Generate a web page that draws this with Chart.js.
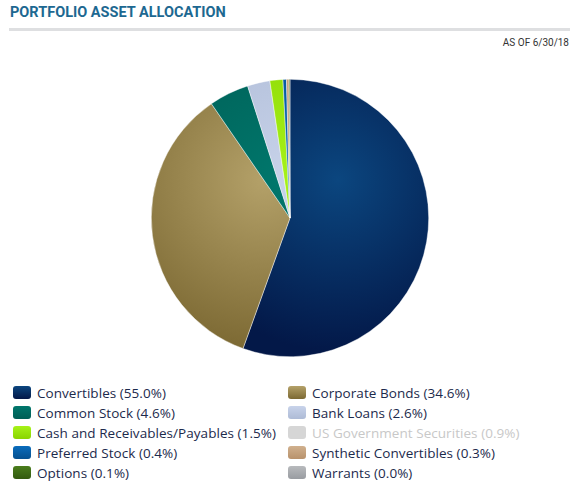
<!DOCTYPE html>
<html>
<head>
<meta charset="utf-8">
<script src="https://cdn.jsdelivr.net/npm/chart.js@4"></script>
<style>
    body { margin: 0; background: #fff; width: 578px; height: 488px; position: relative; overflow: hidden; font-family: "Open Sans", sans-serif; }
    #title { position: absolute; left: 10px; top: 4px; font-family: Roboto, sans-serif; font-weight: bold; font-size: 14.5px; color: #1d6891; letter-spacing: 0; }
    #rule { position: absolute; left: 9px; top: 28px; width: 561px; height: 3px; background: #dedfe1; }
    #asof { position: absolute; right: 9px; top: 37px; font-family: Roboto, sans-serif; font-size: 10px; color: #333; }
    #pie-wrap { position: absolute; left: 151px; top: 79px; width: 278px; height: 278px; }
    #legend { position: absolute; left: 13px; top: 383px; width: 560px; }
    .item { position: absolute; height: 20px; font-size: 13.5px; letter-spacing: 0.05px; color: #1c2a4c; white-space: nowrap; line-height: 20px; }
    .item .sw { position: absolute; left: 0; top: 3px; width: 18px; height: 13px; border-radius: 3px; }
    .item .tx { position: absolute; left: 24px; top: 0; }
    .item.off { color: #c8c8c8; }
</style>
</head>
<body>
<div id="title">PORTFOLIO ASSET ALLOCATION</div>
<div id="rule"></div>
<div id="asof">AS OF 6/30/18</div>
<div id="pie-wrap"><canvas id="allocation"></canvas></div>
<div id="legend"></div>

<script>
const labels = ['Convertibles', 'Corporate Bonds', 'Common Stock', 'Bank Loans',
    'Cash and Receivables/Payables', 'US Government Securities', 'Preferred Stock',
    'Synthetic Convertibles', 'Options', 'Warrants'];
const values = [55.0, 34.6, 4.6, 2.6, 1.5, 0.9, 0.4, 0.3, 0.1, 0.0];
const hiddenSlices = ['US Government Securities'];
// light centre / dark edge for each slice
const lightColors = ['#0b467f', '#b4a169', '#00776c', '#c8d3ea', '#a6f219', '#d4d4d4', '#0a6cbc', '#d0b08e', '#4a7d1c', '#b8babd'];
const darkColors = ['#031848', '#7c6933', '#005e55', '#aebbd6', '#8ad400', '#bdbdbd', '#05508f', '#b8926c', '#335a10', '#999ca1'];

function sliceFill(context) {
    const chart = context.chart;
    const arc = context.element;
    const i = context.dataIndex;
    if (!chart.chartArea || !arc || !arc.outerRadius) {
        return darkColors[i];
    }
    const cx = arc.x, cy = arc.y, r = arc.outerRadius;
    const mid = (arc.startAngle + arc.endAngle) / 2;
    const gx = cx + Math.cos(mid) * r * 0.25;
    const gy = cy - r * 0.33;
    const g = chart.ctx.createRadialGradient(gx, gy, 0, gx, gy, r * 1.15);
    g.addColorStop(0, lightColors[i]);
    g.addColorStop(1, darkColors[i]);
    return g;
}

const ctx = document.getElementById('allocation');
const chart = new Chart(ctx, {
    type: 'pie',
    data: {
        labels: labels,
        datasets: [{
            data: values,
            backgroundColor: sliceFill,
            borderColor: 'rgba(255,255,255,0.7)',
            borderWidth: 0.6
        }]
    },
    options: {
        responsive: false,
        animation: false,
        layout: {padding: 0},
        plugins: {
            legend: {display: false},
            tooltip: {enabled: false}
        }
    }
});
ctx.width = 278; ctx.height = 278;
chart.resize(278, 278);

// hidden series, like the greyed legend entry
labels.forEach(function (l, i) {
    if (hiddenSlices.indexOf(l) >= 0) {
        chart.toggleDataVisibility(i);
    }
});
chart.update();

// two column legend built from the same arrays
const legend = document.getElementById('legend');
labels.forEach(function (l, i) {
    const off = hiddenSlices.indexOf(l) >= 0;
    const item = document.createElement('div');
    item.className = 'item' + (off ? ' off' : '');
    item.style.left = (i % 2 === 0 ? 0 : 275) + 'px';
    item.style.top = (Math.floor(i / 2) * 20) + 'px';
    const sw = document.createElement('span');
    sw.className = 'sw';
    sw.style.background = off ? '#d6d6d6'
        : 'linear-gradient(to bottom, ' + lightColors[i] + ', ' + darkColors[i] + ')';
    const tx = document.createElement('span');
    tx.className = 'tx';
    tx.textContent = l + ' (' + values[i].toFixed(1) + '%)';
    item.appendChild(sw);
    item.appendChild(tx);
    legend.appendChild(item);
});
</script>
</body>
</html>
